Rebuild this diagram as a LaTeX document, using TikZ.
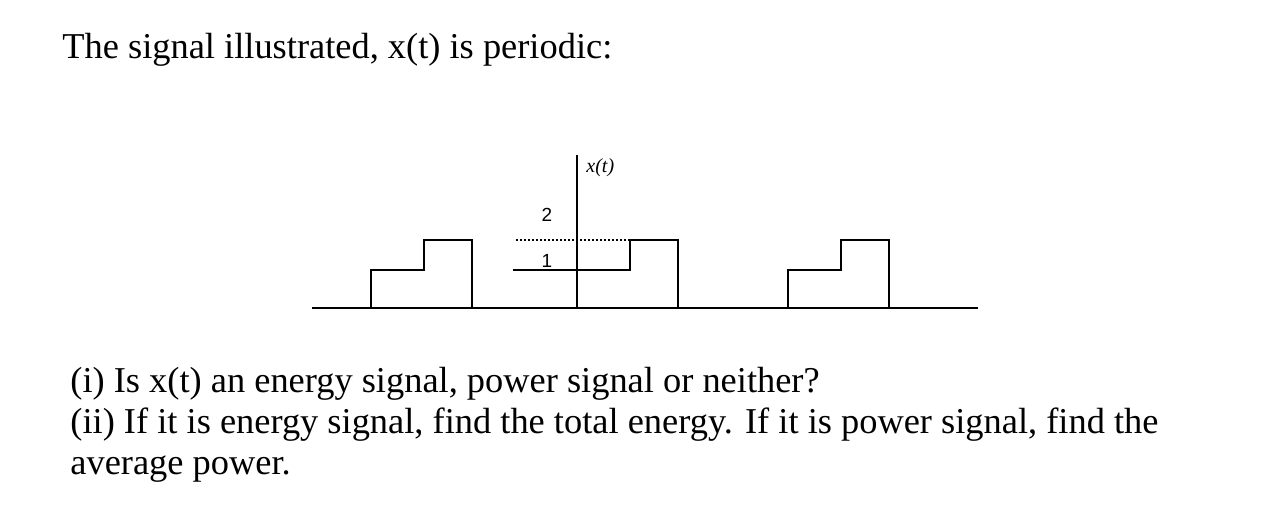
\documentclass[tikz,border=0pt]{standalone}
\usepackage{fontspec}
\setmainfont{Liberation Serif}
\setsansfont{Liberation Sans}
\begin{document}
\begin{tikzpicture}[x=0.5pt,y=-0.5pt,
  sig/.style={line width=0.7pt},
  txt/.style={anchor=base west,inner sep=0,font=\fontsize{18.2}{21}\selectfont},
  lvl/.style={line width=1pt}]
\useasboundingbox (0,0) rectangle (1288,504);
\node[txt] (title) at (62,58) {The signal illustrated, x(t) is periodic:};
\node[txt] (q1) at (70,392) {(i) Is x(t) an energy signal, power signal or neither?};
\node[txt] (q2) at (70,433) {(ii) If it is energy signal, find the total energy. If it is power signal, find the};
\node[txt] (q3) at (70,474) {average power.};
\coordinate (gl) at (312,308); \coordinate (gr) at (978,308);
\draw[sig] (gl) -- (gr);
\coordinate (ab) at (577,308); \coordinate (at) at (577,155);
\draw[sig] (ab) -- (at);
\foreach \x in {371,577,788}{
  \draw[sig] (\x,308) -- (\x,270) -- (\x+53,270) -- (\x+53,240) -- (\x+101,240) -- (\x+101,308);
}
\draw[lvl,densely dotted] (516,240) -- (672,240);
\draw[lvl] (513,270) -- (610,270);
\node[font=\sffamily\fontsize{9.5}{11}\selectfont] (l2) at (547,215) {2};
\node[font=\sffamily\fontsize{9.5}{11}\selectfont] (l1) at (547,261) {1};
\node[font=\fontsize{10}{12}\selectfont\itshape,anchor=west,inner sep=0] (xl) at (586,168) {x(t)};
\end{tikzpicture}
\end{document}
